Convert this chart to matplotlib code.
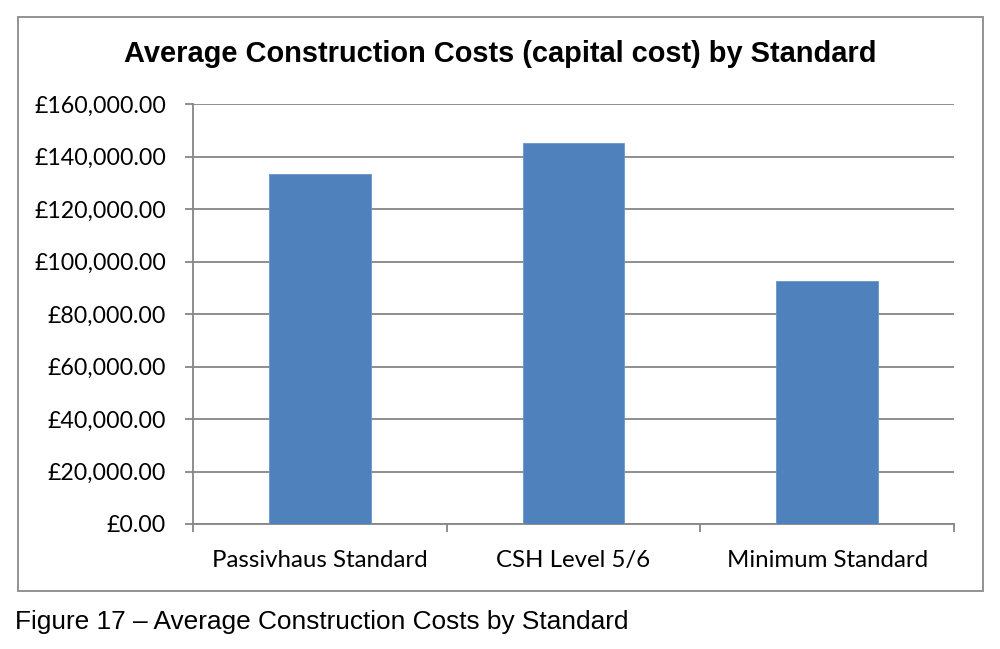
import matplotlib
matplotlib.use("Agg")
import matplotlib.pyplot as plt
from matplotlib.patches import Rectangle
from matplotlib.ticker import FuncFormatter, FixedLocator

categories = ["Passivhaus Standard", "CSH Level 5/6", "Minimum Standard"]
costs = [133300, 145100, 92700]
y_ticks = [0, 20000, 40000, 60000, 80000, 100000, 120000, 140000, 160000]

W, H = 1000, 649
fig = plt.figure(figsize=(W / 100, H / 100), dpi=100)
fig.patch.set_facecolor("white")

# outer chart frame
fig.patches.append(Rectangle((18 / W, 1 - 591 / H), (983 - 18) / W, (591 - 17) / H,
                             transform=fig.transFigure, fill=False,
                             edgecolor="#8a8a8a", linewidth=1.3))

ax = fig.add_axes([193 / W, 1 - 524 / H, (954 - 193) / W, (524 - 104) / H])
x = list(range(len(categories)))
ax.bar(x, costs, width=0.4, color="#4F81BD", edgecolor="#6a95c8", linewidth=0.6, zorder=3)
ax.set_xlim(-0.5, len(categories) - 0.5)
ax.set_ylim(0, 160000)
ax.yaxis.set_major_locator(FixedLocator(y_ticks))
ax.yaxis.set_major_formatter(FuncFormatter(lambda v, p: "£{:,.2f}".format(v)))
ax.grid(axis="y", color="#868686", linewidth=1.3, zorder=0)
ax.set_axisbelow(True)

for s in ["top", "right"]:
    ax.spines[s].set_visible(False)
for s in ["left", "bottom"]:
    ax.spines[s].set_color("#868686")
    ax.spines[s].set_linewidth(1.3)

# category labels and boundary ticks
ax.set_xticks([i - 0.5 for i in range(len(categories) + 1)])
ax.set_xticklabels([])
ax.set_xticks(x, minor=True)
ax.set_xticklabels(categories, minor=True, fontsize=17.3, family="Lato")
ax.tick_params(axis="x", which="minor", length=0, pad=19)
ax.tick_params(axis="x", which="major", length=5.8, width=1.3, color="#868686")
ax.tick_params(axis="y", length=5.8, width=1.3, color="#868686", pad=13.5, labelsize=16.7)
for lab in ax.get_yticklabels():
    lab.set_family("Lato")

fig.text(500 / W, 1 - 54 / H, "Average Construction Costs (capital cost) by Standard",
         ha="center", va="center", fontsize=20.9, fontweight="bold",
         family="Liberation Sans")
fig.text(15 / W, 1 - 622 / H, "Figure 17 \u2013 Average Construction Costs by Standard",
         ha="left", va="center", fontsize=18.9, family="Liberation Sans")

fig.savefig("out.png", dpi=100, facecolor="white")
